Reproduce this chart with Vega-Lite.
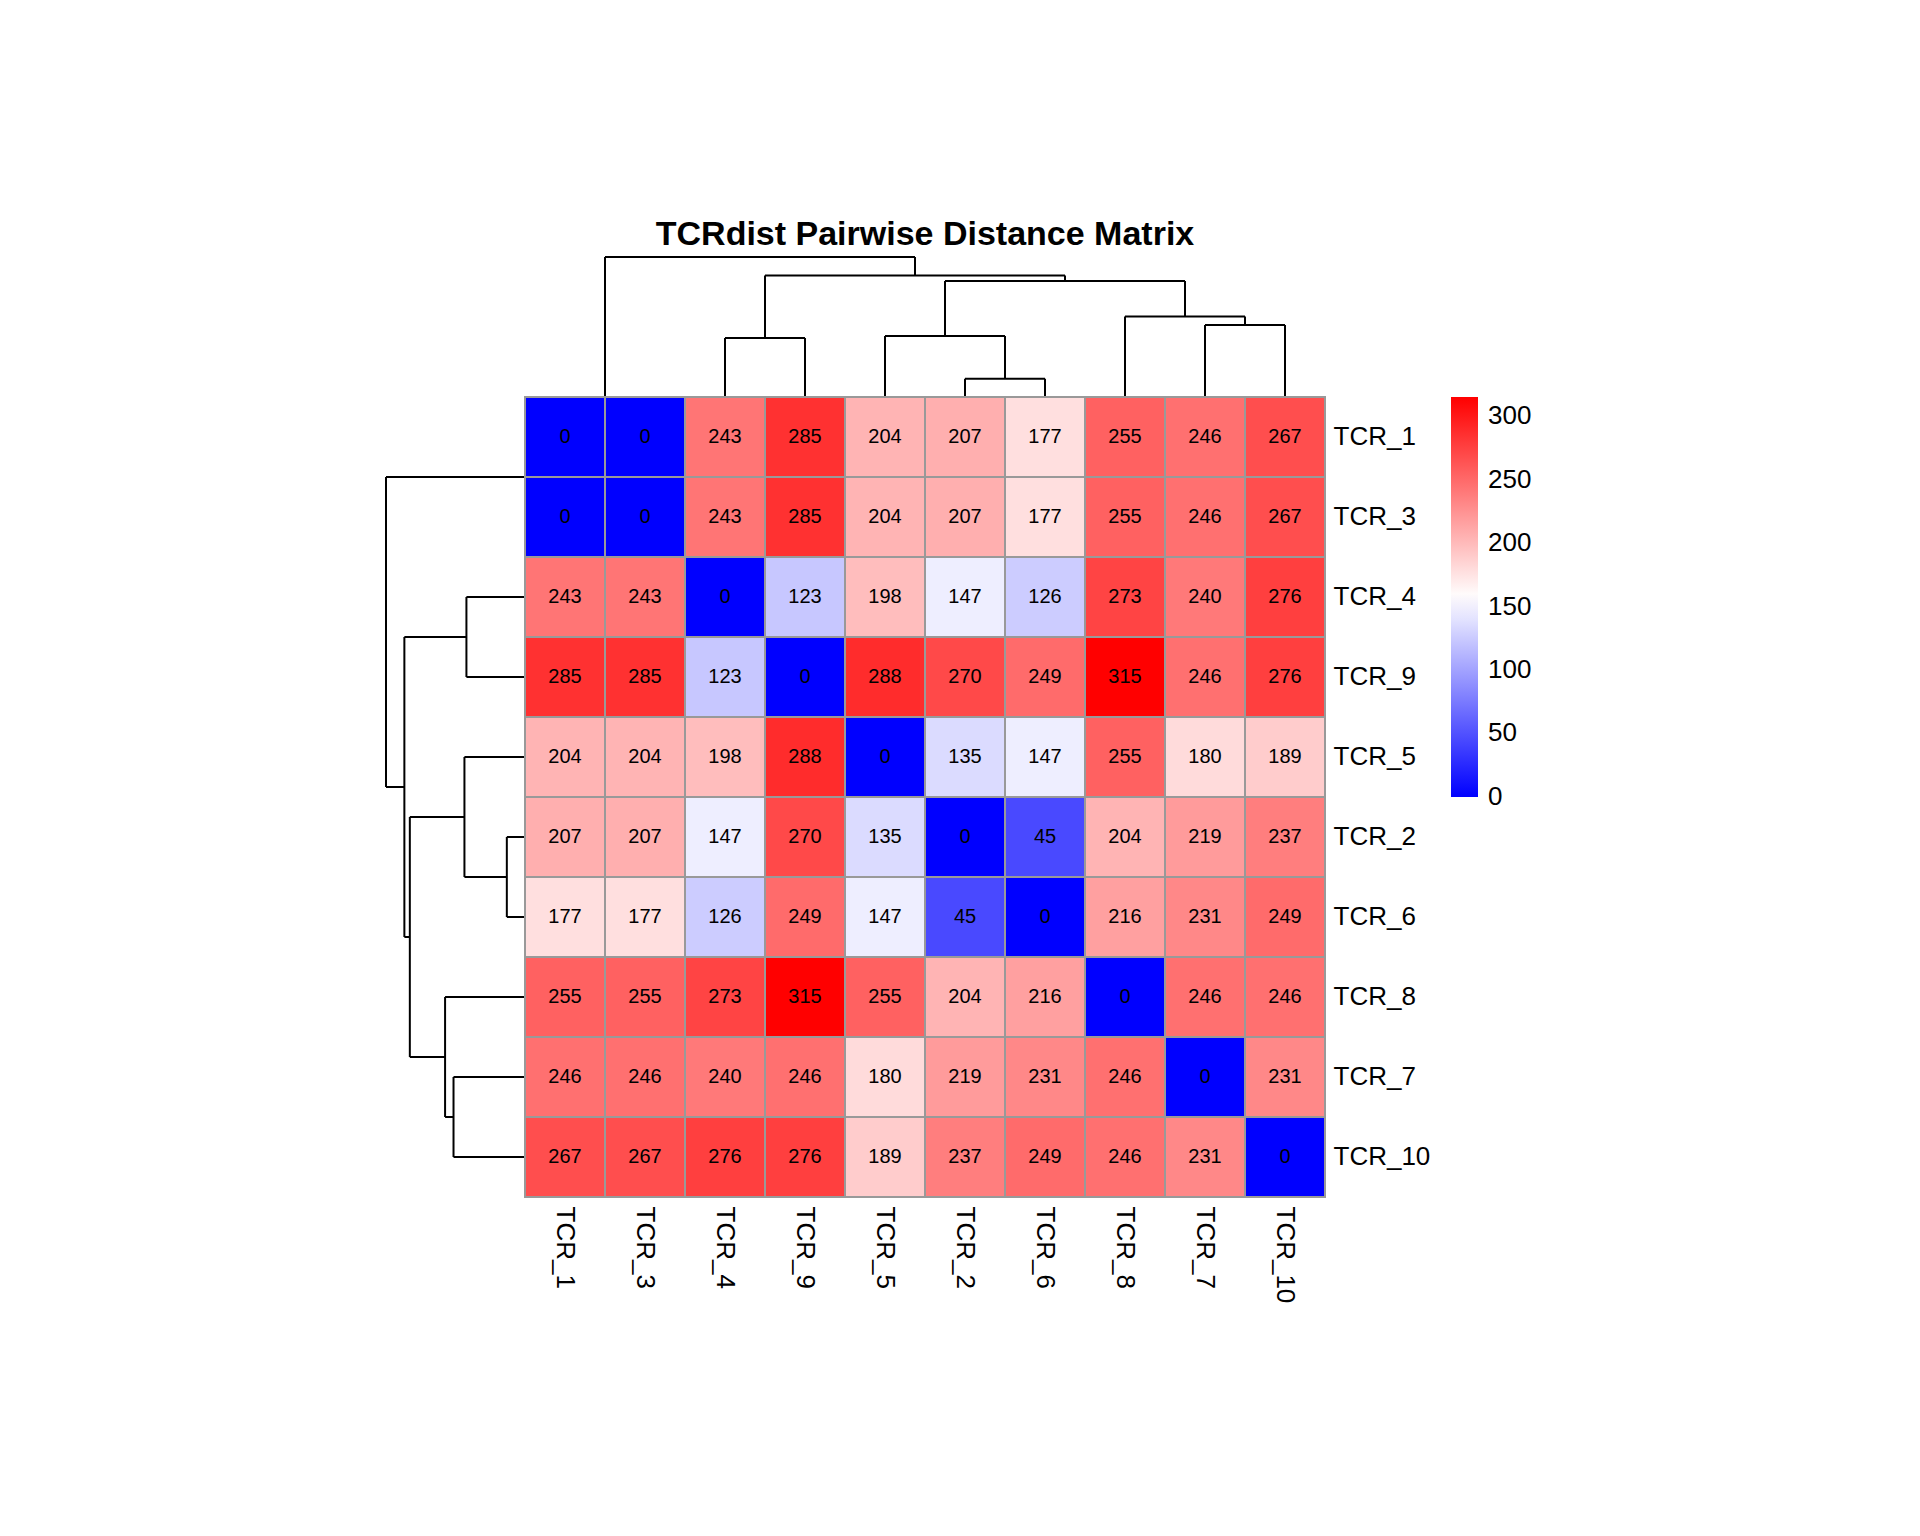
{
  "$schema": "https://vega.github.io/schema/vega-lite/v6.json",
  "autosize": "none",
  "width": 939,
  "height": 940,
  "padding": {"left": 386, "top": 257, "right": 595, "bottom": 339},
  "background": "white",
  "title": {
    "text": "TCRdist Pairwise Distance Matrix",
    "font": "Liberation Sans",
    "fontSize": 34,
    "fontWeight": "bold",
    "color": "black",
    "anchor": "middle",
    "frame": "group",
    "baseline": "alphabetic",
    "offset": 13,
    "dx": 69.5,
    "dy": 36
  },
  "config": {
    "view": {"stroke": null},
    "font": "Liberation Sans"
  },
  "datasets": {
    "cells": [
      {"row": "TCR_1", "col": "TCR_1", "value": 0}, {"row": "TCR_1", "col": "TCR_3", "value": 0}, {"row": "TCR_1", "col": "TCR_4", "value": 243}, {"row": "TCR_1", "col": "TCR_9", "value": 285}, {"row": "TCR_1", "col": "TCR_5", "value": 204}, {"row": "TCR_1", "col": "TCR_2", "value": 207}, {"row": "TCR_1", "col": "TCR_6", "value": 177}, {"row": "TCR_1", "col": "TCR_8", "value": 255}, {"row": "TCR_1", "col": "TCR_7", "value": 246}, {"row": "TCR_1", "col": "TCR_10", "value": 267},
      {"row": "TCR_3", "col": "TCR_1", "value": 0}, {"row": "TCR_3", "col": "TCR_3", "value": 0}, {"row": "TCR_3", "col": "TCR_4", "value": 243}, {"row": "TCR_3", "col": "TCR_9", "value": 285}, {"row": "TCR_3", "col": "TCR_5", "value": 204}, {"row": "TCR_3", "col": "TCR_2", "value": 207}, {"row": "TCR_3", "col": "TCR_6", "value": 177}, {"row": "TCR_3", "col": "TCR_8", "value": 255}, {"row": "TCR_3", "col": "TCR_7", "value": 246}, {"row": "TCR_3", "col": "TCR_10", "value": 267},
      {"row": "TCR_4", "col": "TCR_1", "value": 243}, {"row": "TCR_4", "col": "TCR_3", "value": 243}, {"row": "TCR_4", "col": "TCR_4", "value": 0}, {"row": "TCR_4", "col": "TCR_9", "value": 123}, {"row": "TCR_4", "col": "TCR_5", "value": 198}, {"row": "TCR_4", "col": "TCR_2", "value": 147}, {"row": "TCR_4", "col": "TCR_6", "value": 126}, {"row": "TCR_4", "col": "TCR_8", "value": 273}, {"row": "TCR_4", "col": "TCR_7", "value": 240}, {"row": "TCR_4", "col": "TCR_10", "value": 276},
      {"row": "TCR_9", "col": "TCR_1", "value": 285}, {"row": "TCR_9", "col": "TCR_3", "value": 285}, {"row": "TCR_9", "col": "TCR_4", "value": 123}, {"row": "TCR_9", "col": "TCR_9", "value": 0}, {"row": "TCR_9", "col": "TCR_5", "value": 288}, {"row": "TCR_9", "col": "TCR_2", "value": 270}, {"row": "TCR_9", "col": "TCR_6", "value": 249}, {"row": "TCR_9", "col": "TCR_8", "value": 315}, {"row": "TCR_9", "col": "TCR_7", "value": 246}, {"row": "TCR_9", "col": "TCR_10", "value": 276},
      {"row": "TCR_5", "col": "TCR_1", "value": 204}, {"row": "TCR_5", "col": "TCR_3", "value": 204}, {"row": "TCR_5", "col": "TCR_4", "value": 198}, {"row": "TCR_5", "col": "TCR_9", "value": 288}, {"row": "TCR_5", "col": "TCR_5", "value": 0}, {"row": "TCR_5", "col": "TCR_2", "value": 135}, {"row": "TCR_5", "col": "TCR_6", "value": 147}, {"row": "TCR_5", "col": "TCR_8", "value": 255}, {"row": "TCR_5", "col": "TCR_7", "value": 180}, {"row": "TCR_5", "col": "TCR_10", "value": 189},
      {"row": "TCR_2", "col": "TCR_1", "value": 207}, {"row": "TCR_2", "col": "TCR_3", "value": 207}, {"row": "TCR_2", "col": "TCR_4", "value": 147}, {"row": "TCR_2", "col": "TCR_9", "value": 270}, {"row": "TCR_2", "col": "TCR_5", "value": 135}, {"row": "TCR_2", "col": "TCR_2", "value": 0}, {"row": "TCR_2", "col": "TCR_6", "value": 45}, {"row": "TCR_2", "col": "TCR_8", "value": 204}, {"row": "TCR_2", "col": "TCR_7", "value": 219}, {"row": "TCR_2", "col": "TCR_10", "value": 237},
      {"row": "TCR_6", "col": "TCR_1", "value": 177}, {"row": "TCR_6", "col": "TCR_3", "value": 177}, {"row": "TCR_6", "col": "TCR_4", "value": 126}, {"row": "TCR_6", "col": "TCR_9", "value": 249}, {"row": "TCR_6", "col": "TCR_5", "value": 147}, {"row": "TCR_6", "col": "TCR_2", "value": 45}, {"row": "TCR_6", "col": "TCR_6", "value": 0}, {"row": "TCR_6", "col": "TCR_8", "value": 216}, {"row": "TCR_6", "col": "TCR_7", "value": 231}, {"row": "TCR_6", "col": "TCR_10", "value": 249},
      {"row": "TCR_8", "col": "TCR_1", "value": 255}, {"row": "TCR_8", "col": "TCR_3", "value": 255}, {"row": "TCR_8", "col": "TCR_4", "value": 273}, {"row": "TCR_8", "col": "TCR_9", "value": 315}, {"row": "TCR_8", "col": "TCR_5", "value": 255}, {"row": "TCR_8", "col": "TCR_2", "value": 204}, {"row": "TCR_8", "col": "TCR_6", "value": 216}, {"row": "TCR_8", "col": "TCR_8", "value": 0}, {"row": "TCR_8", "col": "TCR_7", "value": 246}, {"row": "TCR_8", "col": "TCR_10", "value": 246},
      {"row": "TCR_7", "col": "TCR_1", "value": 246}, {"row": "TCR_7", "col": "TCR_3", "value": 246}, {"row": "TCR_7", "col": "TCR_4", "value": 240}, {"row": "TCR_7", "col": "TCR_9", "value": 246}, {"row": "TCR_7", "col": "TCR_5", "value": 180}, {"row": "TCR_7", "col": "TCR_2", "value": 219}, {"row": "TCR_7", "col": "TCR_6", "value": 231}, {"row": "TCR_7", "col": "TCR_8", "value": 246}, {"row": "TCR_7", "col": "TCR_7", "value": 0}, {"row": "TCR_7", "col": "TCR_10", "value": 231},
      {"row": "TCR_10", "col": "TCR_1", "value": 267}, {"row": "TCR_10", "col": "TCR_3", "value": 267}, {"row": "TCR_10", "col": "TCR_4", "value": 276}, {"row": "TCR_10", "col": "TCR_9", "value": 276}, {"row": "TCR_10", "col": "TCR_5", "value": 189}, {"row": "TCR_10", "col": "TCR_2", "value": 237}, {"row": "TCR_10", "col": "TCR_6", "value": 249}, {"row": "TCR_10", "col": "TCR_8", "value": 246}, {"row": "TCR_10", "col": "TCR_7", "value": 231}, {"row": "TCR_10", "col": "TCR_10", "value": 0}
    ],
    "dendro": [
      {"node": "1_3", "x1": 0.5, "h1": 0, "x2": 1.5, "h2": 0, "h": 0},
      {"node": "4_9", "x1": 2.5, "h1": 0, "x2": 3.5, "h2": 0, "h": 59},
      {"node": "2_6", "x1": 5.5, "h1": 0, "x2": 6.5, "h2": 0, "h": 18.3},
      {"node": "5_2_6", "x1": 4.5, "h1": 0, "x2": 6.0, "h2": 18.3, "h": 61},
      {"node": "7_10", "x1": 8.5, "h1": 0, "x2": 9.5, "h2": 0, "h": 72},
      {"node": "8_7_10", "x1": 7.5, "h1": 0, "x2": 9.0, "h2": 72, "h": 80.5},
      {"node": "B", "x1": 5.25, "h1": 61, "x2": 8.25, "h2": 80.5, "h": 116},
      {"node": "A", "x1": 3.0, "h1": 59, "x2": 6.75, "h2": 116, "h": 121.5},
      {"node": "root", "x1": 1.0, "h1": 0, "x2": 4.875, "h2": 121.5, "h": 140}
    ]
  },
  "layer": [
    {
      "data": {"name": "dendro"},
      "layer": [
        {
          "mark": {"type": "rule", "color": "black", "strokeWidth": 2},
          "encoding": {
            "x": {"field": "x1", "type": "quantitative", "scale": {"domain": [0, 10], "range": [139, 939]}, "axis": null},
            "y": {"field": "h1", "type": "quantitative", "scale": {"domain": [0, 140], "range": [140, 0]}, "axis": null},
            "y2": {"field": "h"}
          }
        },
        {
          "mark": {"type": "rule", "color": "black", "strokeWidth": 2},
          "encoding": {
            "x": {"field": "x2", "type": "quantitative", "scale": {"domain": [0, 10], "range": [139, 939]}, "axis": null},
            "y": {"field": "h2", "type": "quantitative", "scale": {"domain": [0, 140], "range": [140, 0]}, "axis": null},
            "y2": {"field": "h"}
          }
        },
        {
          "mark": {"type": "rule", "color": "black", "strokeWidth": 2},
          "encoding": {
            "x": {"field": "x1", "type": "quantitative", "scale": {"domain": [0, 10], "range": [139, 939]}, "axis": null},
            "x2": {"field": "x2"},
            "y": {"field": "h", "type": "quantitative", "scale": {"domain": [0, 140], "range": [140, 0]}, "axis": null}
          }
        }
      ]
    },
    {
      "data": {"name": "dendro"},
      "layer": [
        {
          "mark": {"type": "rule", "color": "black", "strokeWidth": 2},
          "encoding": {
            "y": {"field": "x1", "type": "quantitative", "scale": {"domain": [0, 10], "range": [140, 940]}, "axis": null},
            "x": {"field": "h1", "type": "quantitative", "scale": {"domain": [0, 140], "range": [139, 0]}, "axis": null},
            "x2": {"field": "h"}
          }
        },
        {
          "mark": {"type": "rule", "color": "black", "strokeWidth": 2},
          "encoding": {
            "y": {"field": "x2", "type": "quantitative", "scale": {"domain": [0, 10], "range": [140, 940]}, "axis": null},
            "x": {"field": "h2", "type": "quantitative", "scale": {"domain": [0, 140], "range": [139, 0]}, "axis": null},
            "x2": {"field": "h"}
          }
        },
        {
          "mark": {"type": "rule", "color": "black", "strokeWidth": 2},
          "encoding": {
            "y": {"field": "x1", "type": "quantitative", "scale": {"domain": [0, 10], "range": [140, 940]}, "axis": null},
            "y2": {"field": "x2"},
            "x": {"field": "h", "type": "quantitative", "scale": {"domain": [0, 140], "range": [139, 0]}, "axis": null}
          }
        }
      ]
    },
    {
      "data": {"name": "cells"},
      "encoding": {
        "x": {
          "field": "col", "type": "nominal",
          "sort": ["TCR_1", "TCR_3", "TCR_4", "TCR_9", "TCR_5", "TCR_2", "TCR_6", "TCR_8", "TCR_7", "TCR_10"],
          "scale": {"range": [139, 939], "paddingInner": 0, "paddingOuter": 0},
          "axis": {"orient": "bottom", "title": null, "labelAngle": 90, "labelAlign": "left", "labelBaseline": "middle", "labelFontSize": 26, "labelFont": "Liberation Sans", "labelColor": "black", "labelPadding": 9, "ticks": false, "domain": false, "grid": false}
        },
        "y": {
          "field": "row", "type": "nominal",
          "sort": ["TCR_1", "TCR_3", "TCR_4", "TCR_9", "TCR_5", "TCR_2", "TCR_6", "TCR_8", "TCR_7", "TCR_10"],
          "scale": {"range": [140, 940], "paddingInner": 0, "paddingOuter": 0},
          "axis": {"orient": "right", "title": null, "labelAlign": "left", "labelBaseline": "middle", "labelFontSize": 26, "labelFont": "Liberation Sans", "labelColor": "black", "labelPadding": 8, "ticks": false, "domain": false, "grid": false}
        }
      },
      "layer": [
        {
          "mark": {"type": "rect", "stroke": "#999999", "strokeWidth": 2},
          "encoding": {
            "color": {
              "field": "value", "type": "quantitative",
              "scale": {"domain": [-0.01, 157.5, 315], "range": ["#0000FF", "#FFFFFF", "#FF0000"], "interpolate": "rgb"},
              "legend": {"orient": "none", "legendX": 1065, "legendY": 140, "direction": "vertical", "gradientLength": 400, "gradientThickness": 27, "gradientStrokeWidth": 0, "title": null, "values": [0, 50, 100, 150, 200, 250, 300], "labelFontSize": 26, "labelFont": "Liberation Sans", "labelColor": "black", "labelOffset": 10, "labelOverlap": false, "labelBaseline": "middle", "padding": 0}
            }
          }
        },
        {
          "mark": {"type": "text", "fontSize": 20, "font": "Liberation Sans", "color": "black", "align": "center", "baseline": "middle"},
          "encoding": {"text": {"field": "value", "type": "quantitative"}}
        }
      ]
    }
  ],
  "resolve": {"scale": {"x": "independent", "y": "independent"}}
}
